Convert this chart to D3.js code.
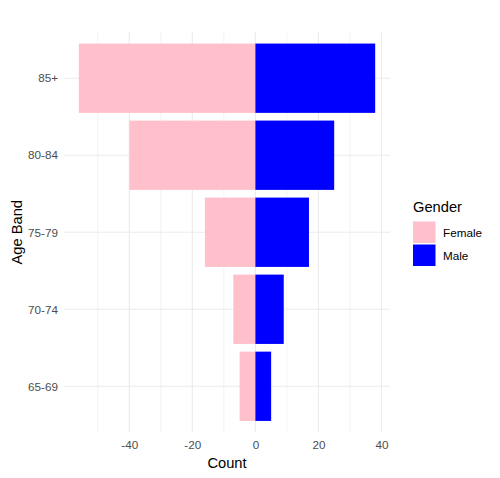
<!DOCTYPE html>
<html>
<head>
<meta charset="utf-8">
<script src="https://cdn.jsdelivr.net/npm/d3@7"></script>
<style>
  body { margin: 0; background: #fff; }
  text { font-family: "Liberation Sans", Arial, sans-serif; }
</style>
</head>
<body>
<svg id="chart"></svg>
<script>
// Age bands, bottom to top
const ageBands = ["65-69", "70-74", "75-79", "80-84", "85+"];
// Female counts are negative (left side of the pyramid)
const femaleCounts = [-5, -7, -16, -40, -56];
const maleCounts = [5, 9, 17, 25, 38];
const xTicks = [-40, -20, 0, 20, 40];
const xMinorTicks = [-50, -30, -10, 10, 30];
const genders = ["Female", "Male"];
const genderColors = ["pink", "blue"];

const width = 500, height = 478;
const panel = { left: 64, right: 390, top: 32, bottom: 432.5 };

const svg = d3.select("#chart")
    .attr("width", width)
    .attr("height", height);

// x domain with ggplot style 5% expansion
const lo = d3.min(femaleCounts), hi = d3.max(maleCounts);
const pad = (hi - lo) * 0.05;
const x = d3.scaleLinear()
    .domain([lo - pad, hi + pad])
    .range([panel.left, panel.right]);

// discrete y: 0.6 units of expansion on each end
const y = d3.scalePoint()
    .domain(ageBands)
    .range([panel.bottom, panel.top])
    .padding(0.6);
const step = y.step();
const barH = step * 0.9;

// grid lines
svg.append("g")
    .selectAll("line")
    .data(xMinorTicks)
    .join("line")
    .attr("x1", d => x(d)).attr("x2", d => x(d))
    .attr("y1", panel.top).attr("y2", panel.bottom)
    .attr("stroke", "#EBEBEB")
    .attr("stroke-width", 0.6);

svg.append("g")
    .selectAll("line")
    .data(xTicks)
    .join("line")
    .attr("x1", d => x(d)).attr("x2", d => x(d))
    .attr("y1", panel.top).attr("y2", panel.bottom)
    .attr("stroke", "#EBEBEB")
    .attr("stroke-width", 1.1);

svg.append("g")
    .selectAll("line")
    .data(ageBands)
    .join("line")
    .attr("x1", panel.left).attr("x2", panel.right)
    .attr("y1", d => y(d)).attr("y2", d => y(d))
    .attr("stroke", "#EBEBEB")
    .attr("stroke-width", 1.1);

// bars
const rows = ageBands.map((band, i) => ({ band, female: femaleCounts[i], male: maleCounts[i] }));

svg.append("g")
    .selectAll("rect")
    .data(rows)
    .join("rect")
    .attr("x", d => x(d.female))
    .attr("width", d => x(0) - x(d.female))
    .attr("y", d => y(d.band) - barH / 2)
    .attr("height", barH)
    .attr("fill", genderColors[0]);

svg.append("g")
    .selectAll("rect")
    .data(rows)
    .join("rect")
    .attr("x", x(0))
    .attr("width", d => x(d.male) - x(0))
    .attr("y", d => y(d.band) - barH / 2)
    .attr("height", barH)
    .attr("fill", genderColors[1]);

// axes (no lines, just labels) - plain hyphen for negatives like R
const xAxis = svg.append("g")
    .attr("transform", `translate(0,${panel.bottom})`)
    .call(d3.axisBottom(x).tickValues(xTicks).tickFormat(d => String(d)).tickSize(0).tickPadding(8));
xAxis.select(".domain").remove();
xAxis.selectAll("text")
    .attr("font-size", "11.7px")
    .attr("fill", "#4D4D4D")
    .attr("font-family", "Liberation Sans, Arial, sans-serif");

const yAxis = svg.append("g")
    .attr("transform", `translate(${panel.left},0)`)
    .call(d3.axisLeft(y).tickSize(0).tickPadding(6));
yAxis.select(".domain").remove();
yAxis.selectAll("text")
    .attr("font-size", "11.7px")
    .attr("fill", "#4D4D4D")
    .attr("font-family", "Liberation Sans, Arial, sans-serif");

// axis titles
svg.append("text")
    .attr("x", (panel.left + panel.right) / 2)
    .attr("y", 468)
    .attr("text-anchor", "middle")
    .attr("font-size", "14.7px")
    .attr("fill", "black")
    .text("Count");

svg.append("text")
    .attr("transform", `translate(22,${(panel.top + panel.bottom) / 2}) rotate(-90)`)
    .attr("text-anchor", "middle")
    .attr("font-size", "14.7px")
    .attr("fill", "black")
    .text("Age Band");

// legend
const legend = svg.append("g").attr("transform", "translate(413,0)");
legend.append("text")
    .attr("x", 0)
    .attr("y", 212)
    .attr("font-size", "14.7px")
    .attr("fill", "black")
    .text("Gender");

genders.forEach((g, i) => {
    legend.append("rect")
        .attr("x", 0)
        .attr("y", 221.5 + i * 23)
        .attr("width", 22.5)
        .attr("height", 21.5)
        .attr("fill", genderColors[i]);
    legend.append("text")
        .attr("x", 30)
        .attr("y", 232.5 + i * 23)
        .attr("dy", "0.35em")
        .attr("font-size", "11.7px")
        .attr("fill", "black")
        .text(g);
});
</script>
</body>
</html>
